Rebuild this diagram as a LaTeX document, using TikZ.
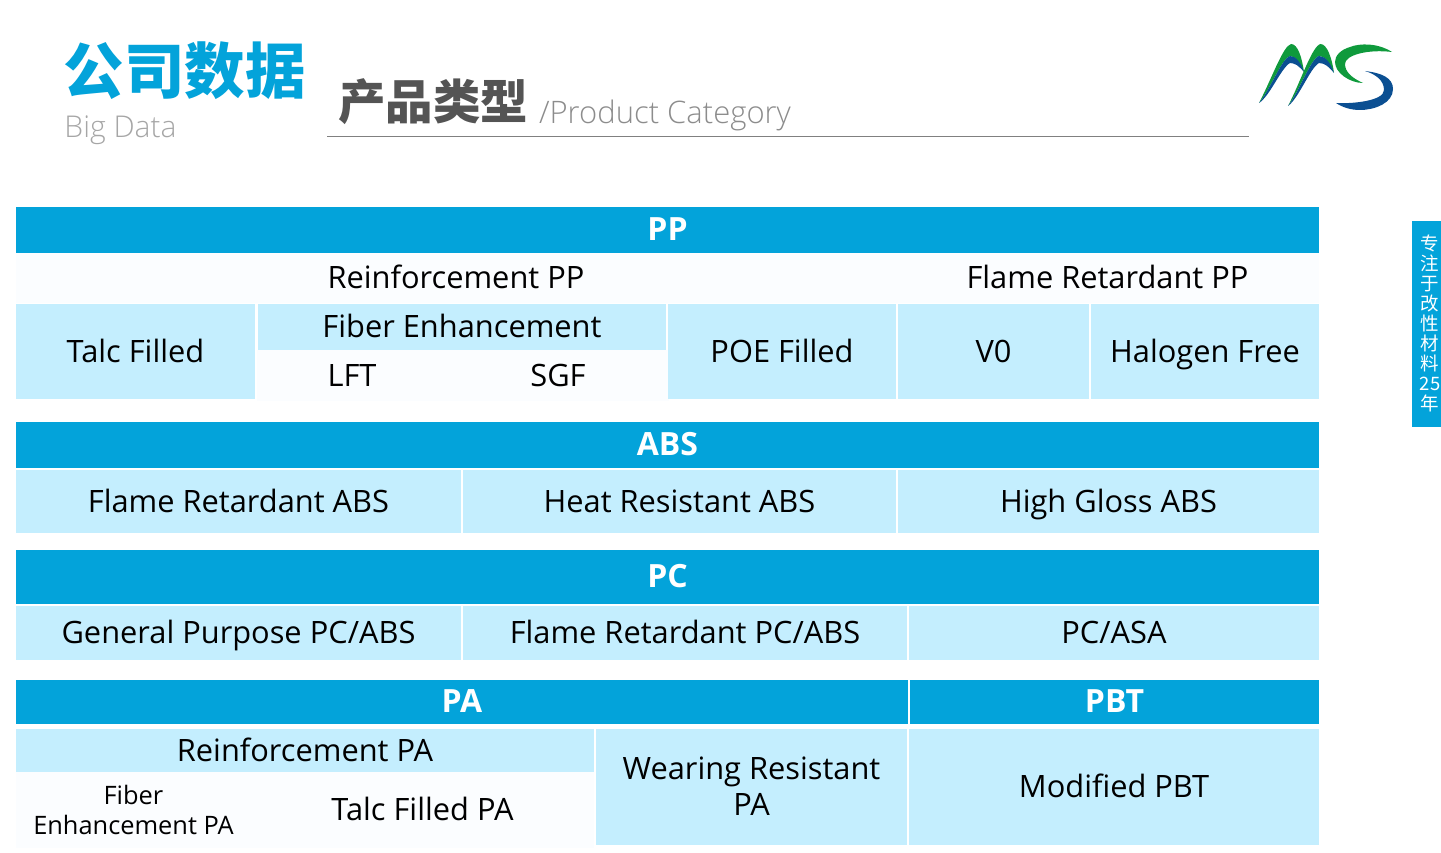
\documentclass[tikz,border=0pt]{standalone}
\usepackage{fontspec}
\setmainfont{Open Sans}
\newfontfamily\cjk{Noto Sans CJK SC}
\newfontfamily\cjkb[AutoFakeBold=1.2]{Noto Sans CJK SC Black}
\newfontfamily\lightf{Open Sans Light}
\definecolor{headblue}{HTML}{03A3DA}
\definecolor{lightblue}{HTML}{C4EEFE}
\definecolor{nearwhite}{HTML}{FBFDFF}
\definecolor{logogreen}{HTML}{0F9A3C}
\definecolor{logoblue}{HTML}{0B4F92}
\tikzset{
 cellbox/.style={inner sep=0pt,outer sep=0pt,anchor=north west,align=center,text=black,text height=25pt,text depth=4pt,font=\fontsize{30.8}{34}\selectfont},
 head/.style={cellbox,fill=headblue,text=white,font=\fontsize{32}{34}\selectfont\bfseries},
 pale/.style={cellbox,fill=lightblue},
 plain/.style={cellbox,fill=nearwhite},
 multi/.style={text height={},text depth={}},
 sz/.style 2 args={minimum width=#1pt,minimum height=#2pt}
}
\begin{document}
\begin{tikzpicture}[x=1pt,y=-1pt]
\useasboundingbox (0,0) rectangle (1441,853);
% titles
\node[inner sep=0pt,text=headblue,font=\cjkb\fontsize{60.5}{59}\selectfont] (t1) at (184.5,71) {公司数据};
\node[inner sep=0pt,text=black!35,font=\lightf\fontsize{30}{28}\selectfont] (t2) at (120.5,130) {Big Data};
\node[inner sep=0pt,text=black!67,font=\cjkb\fontsize{47.5}{46.5}\selectfont] (t3) at (433,102) {产品类型};
\node[inner sep=0pt,text=black!45,font=\lightf\fontsize{31}{31}\selectfont] (t4) at (665,115) {/Product Category};
\coordinate (ruleA) at (327,136.5);
\coordinate (ruleB) at (1249,136.5);
\draw[black!50,line width=1pt] (ruleA) -- (ruleB);
% logo
\fill[logogreen] (1259,103) .. controls (1272,78) and (1283,46) .. (1291,44) .. controls (1298,44) and (1302,58) .. (1304,72) .. controls (1299,62) and (1295,56) .. (1290,56) .. controls (1282,58) and (1270,90) .. (1259,103) -- cycle;
\fill[logoblue] (1259,103) .. controls (1270,90) and (1282,58) .. (1290,56) .. controls (1296,56) and (1301,63) .. (1304,72) .. controls (1299,66) and (1295,63) .. (1290,63) .. controls (1281,68) and (1270,96) .. (1259,103) -- cycle;
\fill[logogreen] (1288,106) .. controls (1301,81) and (1312,46) .. (1320.5,44) .. controls (1327,44) and (1332,58) .. (1334,73) .. controls (1329,62) and (1325,56) .. (1319,56) .. controls (1311,58) and (1299,92) .. (1288,106) -- cycle;
\fill[logoblue] (1288,106) .. controls (1299,92) and (1311,58) .. (1319,56) .. controls (1326,56) and (1331,64) .. (1334,73) .. controls (1329,67) and (1325,63) .. (1319,63) .. controls (1310,68) and (1299,98) .. (1288,106) -- cycle;
\fill[logogreen] (1392,52) .. controls (1378,43) and (1360,43) .. (1350,47) .. controls (1340,50) and (1335,56) .. (1335,62) .. controls (1335,73) and (1350,83) .. (1363,83) .. controls (1352,78) and (1345,72) .. (1345,64) .. controls (1345,55) and (1368,49) .. (1392,52) -- cycle;
\fill[logoblue] (1365,71) .. controls (1382,73) and (1393,78) .. (1393,89) .. controls (1393,103) and (1375,110) .. (1360,110) .. controls (1350,110) and (1342,107) .. (1336,103) .. controls (1352,104) and (1384,101) .. (1384,90) .. controls (1384,80) and (1375,74) .. (1365,71) -- cycle;
% PP
\node[head,sz={1303}{46}] (pp) at (16,207) {PP};
\node[plain,sz={880}{50}] (rpp) at (16,253) {Reinforcement PP};
\node[plain,sz={423}{50}] (frpp) at (896,253) {Flame Retardant PP};
\node[pale,sz={239}{95}] (talc) at (16,304) {Talc Filled};
\node[pale,sz={408}{46}] (fib) at (258,304) {Fiber Enhancement};
\node[plain,sz={190}{51}] (lft) at (257,350) {LFT};
\node[plain,sz={222}{51}] (sgf) at (447,350) {SGF};
\node[pale,sz={228}{95}] (poe) at (668,304) {POE Filled};
\node[pale,sz={191}{95}] (v0) at (898,304) {V0};
\node[pale,sz={228}{95}] (hf) at (1091,304) {Halogen Free};
% ABS
\node[head,sz={1303}{46}] (abs) at (16,422) {ABS};
\node[pale,sz={445}{63}] (a1) at (16,470) {Flame Retardant ABS};
\node[pale,sz={433}{63}] (a2) at (463,470) {Heat Resistant ABS};
\node[pale,sz={421}{63}] (a3) at (898,470) {High Gloss ABS};
% PC
\node[head,sz={1303}{54}] (pc) at (16,550) {PC};
\node[pale,sz={445}{54}] (c1) at (16,606) {General Purpose PC/ABS};
\node[pale,sz={444}{54}] (c2) at (463,606) {Flame Retardant PC/ABS};
\node[pale,sz={410}{54}] (c3) at (909,606) {PC/ASA};
% PA / PBT
\node[head,sz={892}{44}] (pa) at (16,680) {PA};
\node[head,sz={409}{44}] (pbt) at (910,680) {PBT};
\node[pale,sz={578}{43}] (rpa) at (16,729) {Reinforcement PA};
\node[plain,multi,sz={235}{76},font=\fontsize{25.4}{30}\selectfont] (fpa) at (16,772) {Fiber\\Enhancement PA};
\node[plain,sz={343}{76}] (tpa) at (251,772) {Talc Filled PA};
\node[pale,multi,sz={311}{116},font=\fontsize{30.8}{36}\selectfont] (wpa) at (596,729) {Wearing Resistant\\PA\rule[-2pt]{0pt}{2pt}};
\node[pale,sz={410}{116}] (mpbt) at (909,729) {Modified PBT};
% side tab
\node[cellbox,multi,fill=headblue,sz={29}{206}] (side) at (1412,221) {};
\node[inner sep=0pt,align=center,text=white,font=\cjk\fontsize{18.5}{20}\selectfont] (sidetext) at (1430,323.5) {专\\注\\于\\改\\性\\材\\料\\25\\年};
\end{tikzpicture}
\end{document}
